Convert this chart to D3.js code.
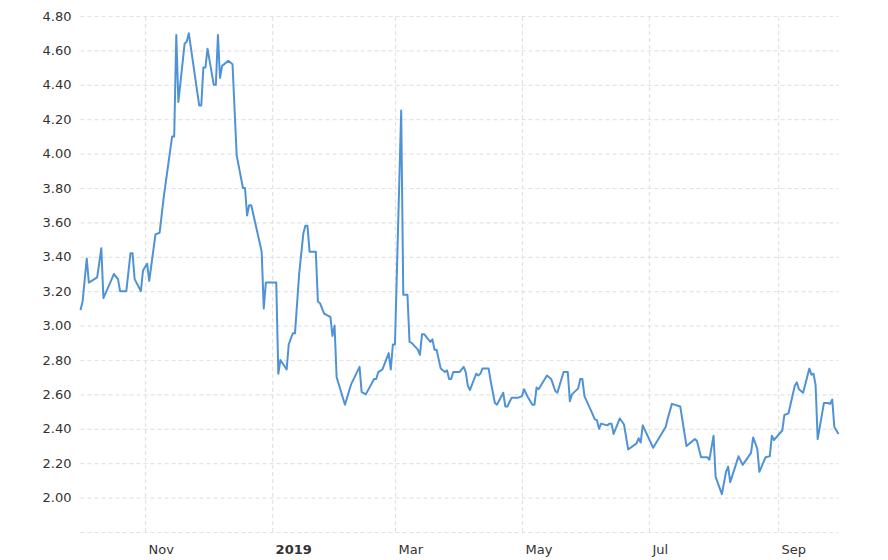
<!DOCTYPE html>
<html>
<head>
<meta charset="utf-8">
<script src="https://cdn.jsdelivr.net/npm/d3@7"></script>
<style>
  body { margin: 0; background: #fff; }
  #div_chart { width: 888px; height: 560px; }
</style>
</head>
<body>
<div id="div_chart"></div>
<script>
// daily price points
var dates = [
  "2018-10-01","2018-10-02","2018-10-04","2018-10-05","2018-10-09","2018-10-11","2018-10-12","2018-10-16","2018-10-17","2018-10-19",
  "2018-10-20","2018-10-23","2018-10-25","2018-10-26","2018-10-27","2018-10-30","2018-10-31","2018-11-02","2018-11-03","2018-11-06",
  "2018-11-08","2018-11-10","2018-11-14","2018-11-15","2018-11-16","2018-11-17","2018-11-20","2018-11-21","2018-11-22","2018-11-27",
  "2018-11-28","2018-11-29","2018-11-30","2018-12-01","2018-12-04","2018-12-05","2018-12-06","2018-12-07","2018-12-08","2018-12-11",
  "2018-12-12","2018-12-13","2018-12-15","2018-12-18","2018-12-19","2018-12-20","2018-12-21","2018-12-22","2018-12-27","2018-12-28",
  "2018-12-29","2019-01-03","2019-01-04","2019-01-05","2019-01-08","2019-01-09","2019-01-10","2019-01-11","2019-01-12","2019-01-14",
  "2019-01-16","2019-01-17","2019-01-18","2019-01-19","2019-01-22","2019-01-23","2019-01-24","2019-01-26","2019-01-29","2019-01-30",
  "2019-01-31","2019-02-01","2019-02-05","2019-02-08","2019-02-12","2019-02-13","2019-02-15","2019-02-19","2019-02-20","2019-02-21",
  "2019-02-23","2019-02-26","2019-02-27","2019-02-28","2019-03-01","2019-03-04","2019-03-05","2019-03-07","2019-03-08","2019-03-09",
  "2019-03-12","2019-03-13","2019-03-14","2019-03-15","2019-03-18","2019-03-19","2019-03-20","2019-03-21","2019-03-23","2019-03-25",
  "2019-03-26","2019-03-27","2019-03-28","2019-03-29","2019-04-01","2019-04-03","2019-04-04","2019-04-05","2019-04-06","2019-04-09",
  "2019-04-10","2019-04-11","2019-04-12","2019-04-15","2019-04-16","2019-04-18","2019-04-19","2019-04-22","2019-04-23","2019-04-24",
  "2019-04-26","2019-04-29","2019-05-01","2019-05-02","2019-05-04","2019-05-05","2019-05-06","2019-05-07","2019-05-08","2019-05-09",
  "2019-05-13","2019-05-15","2019-05-17","2019-05-18","2019-05-21","2019-05-23","2019-05-24","2019-05-25","2019-05-28","2019-05-29",
  "2019-05-30","2019-05-31","2019-06-03","2019-06-05","2019-06-06","2019-06-07","2019-06-08","2019-06-11","2019-06-12","2019-06-13",
  "2019-06-14","2019-06-17","2019-06-19","2019-06-21","2019-06-25","2019-06-26","2019-06-27","2019-06-28","2019-07-03","2019-07-09",
  "2019-07-10","2019-07-12","2019-07-16","2019-07-19","2019-07-23","2019-07-24","2019-07-26","2019-07-29","2019-07-30","2019-08-01",
  "2019-08-02","2019-08-05","2019-08-07","2019-08-08","2019-08-09","2019-08-13","2019-08-15","2019-08-19","2019-08-20","2019-08-22",
  "2019-08-23","2019-08-26","2019-08-28","2019-08-29","2019-08-30","2019-09-03","2019-09-04","2019-09-06","2019-09-09","2019-09-10",
  "2019-09-11","2019-09-13","2019-09-16","2019-09-17","2019-09-18","2019-09-19","2019-09-20","2019-09-23","2019-09-25","2019-09-26",
  "2019-09-27","2019-09-28","2019-09-30"
];

var prices = [
  3.09,3.14,3.39,3.25,3.28,3.45,3.16,3.27,3.30,3.27,
  3.20,3.20,3.42,3.42,3.27,3.20,3.32,3.36,3.26,3.53,
  3.54,3.75,4.10,4.10,4.69,4.30,4.64,4.65,4.70,4.28,
  4.28,4.50,4.50,4.61,4.40,4.40,4.69,4.44,4.51,4.54,
  4.53,4.52,3.99,3.80,3.80,3.64,3.70,3.70,3.43,3.10,
  3.25,3.25,2.72,2.80,2.745,2.89,2.925,2.955,2.955,3.30,
  3.535,3.58,3.58,3.43,3.43,3.14,3.13,3.07,3.05,2.94,
  3.00,2.70,2.54,2.66,2.76,2.615,2.60,2.69,2.69,2.73,
  2.745,2.84,2.745,2.89,2.89,4.25,3.18,3.18,2.905,2.90,
  2.86,2.83,2.95,2.95,2.905,2.92,2.86,2.86,2.75,2.73,
  2.74,2.69,2.69,2.73,2.73,2.76,2.73,2.65,2.625,2.72,
  2.71,2.72,2.75,2.75,2.675,2.55,2.54,2.61,2.53,2.53,
  2.58,2.58,2.59,2.63,2.58,2.56,2.54,2.54,2.64,2.63,
  2.71,2.69,2.62,2.61,2.73,2.73,2.56,2.60,2.635,2.69,
  2.69,2.59,2.51,2.455,2.45,2.40,2.43,2.42,2.43,2.43,
  2.37,2.46,2.425,2.28,2.315,2.345,2.32,2.42,2.29,2.41,
  2.46,2.545,2.53,2.30,2.34,2.33,2.235,2.235,2.22,2.36,
  2.12,2.02,2.15,2.18,2.09,2.24,2.19,2.26,2.35,2.285,
  2.15,2.235,2.24,2.36,2.335,2.39,2.48,2.49,2.65,2.67,
  2.63,2.61,2.75,2.715,2.72,2.655,2.34,2.55,2.55,2.545,
  2.57,2.41,2.37
];

// axis ticks
var yTicks = [1.8,2.0,2.2,2.4,2.6,2.8,3.0,3.2,3.4,3.6,3.8,4.0,4.2,4.4,4.6,4.8];
var xTicks = ["2018-11-01","2019-01-01","2019-03-01","2019-05-01","2019-07-01","2019-09-01"];
var xTickLabels = ["Nov","2019","Mar","May","Jul","Sep"];
var xDomain = ["2018-10-01","2019-09-30"];

var parseDate = d3.timeParse("%Y-%m-%d");

var data = dates.map(function(d, i) {
  return { date: parseDate(d), value: prices[i] };
});

//Width and height
var w = 888;
var h = 560;
var plotLeft = 80.5, plotRight = 838.5, plotTop = 16, plotBottom = 532;

var x = d3.scaleTime()
          .domain(xDomain.map(parseDate))
          .range([plotLeft, plotRight]);

var y = d3.scaleLinear()
          .domain([1.8, 4.8])
          .range([plotBottom, plotTop]);

var svg = d3.select("#div_chart")
            .append("svg")
            .attr("width", w)
            .attr("height", h)
            .style("font-family", "'DejaVu Sans', Verdana, sans-serif");

svg.append("rect")
   .attr("width", w)
   .attr("height", h)
   .attr("fill", "#fff");

//horizontal grid + y labels
var yAxis = d3.axisLeft(y)
              .tickValues(yTicks)
              .tickSize(-(plotRight - plotLeft))
              .tickPadding(9)
              .tickFormat(function(d) { return d < 1.9 ? "" : d3.format(".2f")(d); });

var gy = svg.append("g")
            .attr("transform", "translate(" + plotLeft + ",0)")
            .call(yAxis)
            .attr("font-family", null)
            .attr("font-size", null);

gy.select(".domain").remove();
gy.selectAll(".tick line")
  .attr("stroke", "#e3e3e3")
  .attr("stroke-width", 1.2)
  .attr("stroke-dasharray", "4,3");
gy.selectAll(".tick text")
  .attr("fill", "#333")
  .style("font-size", "13px");

//vertical grid + month labels
var xAxis = d3.axisBottom(x)
              .tickValues(xTicks.map(parseDate))
              .tickSize(-(plotBottom - plotTop))
              .tickPadding(0)
              .tickFormat(function(d, i) { return xTickLabels[i]; });

var gx = svg.append("g")
            .attr("transform", "translate(0," + plotBottom + ")")
            .call(xAxis)
            .attr("font-family", null)
            .attr("font-size", null);

gx.select(".domain").remove();
gx.selectAll(".tick line")
  .attr("stroke", "#e3e3e3")
  .attr("stroke-width", 1.2)
  .attr("stroke-dasharray", "4,3");
gx.selectAll(".tick text")
  .attr("fill", "#333")
  .attr("text-anchor", "start")
  .attr("x", 3)
  .attr("y", 22)
  .attr("dy", null)
  .style("font-size", "13px")
  .style("font-weight", function(d, i) { return xTickLabels[i] === "2019" ? "bold" : "normal"; });

//price line
var line = d3.line()
             .x(function(d) { return x(d.date); })
             .y(function(d) { return y(d.value); });

svg.append("path")
   .datum(data)
   .attr("fill", "none")
   .attr("stroke", "#4f93d6")
   .attr("stroke-width", 2)
   .attr("stroke-linejoin", "round")
   .attr("d", line);
</script>
</body>
</html>
